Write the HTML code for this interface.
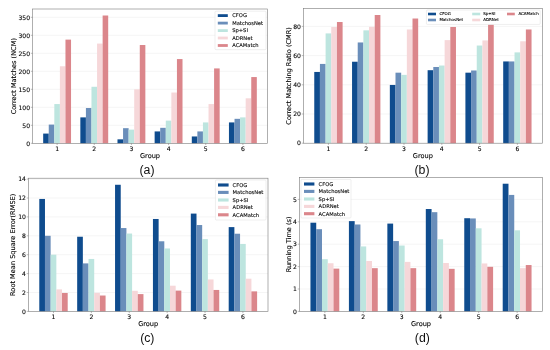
<!DOCTYPE html>
<html><head><meta charset="utf-8"><title>figure</title>
<style>
html,body{margin:0;padding:0;background:#fff;}
svg{display:block}
svg text{font-family:"DejaVu Sans","Liberation Sans",sans-serif;fill:#000;stroke:#000;stroke-width:0.1px;}
svg text.cap{font-family:"Liberation Sans",Arial,sans-serif;fill:#111;stroke:none;}
</style></head><body>
<svg width="550" height="350" viewBox="0 0 550 350">
<rect width="550" height="350" fill="#fff"/>
<g><line x1="32.5" x2="267.5" y1="125.3" y2="125.3" stroke="#ebebeb" stroke-width="0.5"/>
<line x1="32.5" x2="267.5" y1="107.3" y2="107.3" stroke="#ebebeb" stroke-width="0.5"/>
<line x1="32.5" x2="267.5" y1="89.3" y2="89.3" stroke="#ebebeb" stroke-width="0.5"/>
<line x1="32.5" x2="267.5" y1="71.3" y2="71.3" stroke="#ebebeb" stroke-width="0.5"/>
<line x1="32.5" x2="267.5" y1="53.3" y2="53.3" stroke="#ebebeb" stroke-width="0.5"/>
<line x1="32.5" x2="267.5" y1="35.3" y2="35.3" stroke="#ebebeb" stroke-width="0.5"/>
<line x1="32.5" x2="267.5" y1="17.3" y2="17.3" stroke="#ebebeb" stroke-width="0.5"/>
<rect x="43.18" y="133.58" width="5.57" height="9.72" fill="#0f4c8e"/>
<rect x="48.75" y="124.58" width="5.57" height="18.72" fill="#6a8eba"/>
<rect x="54.33" y="104.06" width="5.57" height="39.24" fill="#bde5df"/>
<rect x="59.9" y="66.26" width="5.57" height="77.04" fill="#f6d7d9"/>
<rect x="65.47" y="39.62" width="5.57" height="103.68" fill="#db868b"/>
<rect x="80.34" y="117.38" width="5.57" height="25.92" fill="#0f4c8e"/>
<rect x="85.91" y="108.02" width="5.57" height="35.28" fill="#6a8eba"/>
<rect x="91.48" y="86.78" width="5.57" height="56.52" fill="#bde5df"/>
<rect x="97.06" y="43.58" width="5.57" height="99.72" fill="#f6d7d9"/>
<rect x="102.63" y="15.5" width="5.57" height="127.8" fill="#db868b"/>
<rect x="117.49" y="139.34" width="5.57" height="3.96" fill="#0f4c8e"/>
<rect x="123.06" y="128.18" width="5.57" height="15.12" fill="#6a8eba"/>
<rect x="128.64" y="129.62" width="5.57" height="13.68" fill="#bde5df"/>
<rect x="134.21" y="89.3" width="5.57" height="54" fill="#f6d7d9"/>
<rect x="139.78" y="45.02" width="5.57" height="98.28" fill="#db868b"/>
<rect x="154.64" y="131.42" width="5.57" height="11.88" fill="#0f4c8e"/>
<rect x="160.22" y="127.82" width="5.57" height="15.48" fill="#6a8eba"/>
<rect x="165.79" y="120.62" width="5.57" height="22.68" fill="#bde5df"/>
<rect x="171.36" y="92.54" width="5.57" height="50.76" fill="#f6d7d9"/>
<rect x="176.94" y="59.06" width="5.57" height="84.24" fill="#db868b"/>
<rect x="191.8" y="136.46" width="5.57" height="6.84" fill="#0f4c8e"/>
<rect x="197.37" y="131.42" width="5.57" height="11.88" fill="#6a8eba"/>
<rect x="202.94" y="122.42" width="5.57" height="20.88" fill="#bde5df"/>
<rect x="208.52" y="104.06" width="5.57" height="39.24" fill="#f6d7d9"/>
<rect x="214.09" y="68.42" width="5.57" height="74.88" fill="#db868b"/>
<rect x="228.95" y="122.42" width="5.57" height="20.88" fill="#0f4c8e"/>
<rect x="234.53" y="118.82" width="5.57" height="24.48" fill="#6a8eba"/>
<rect x="240.1" y="117.38" width="5.57" height="25.92" fill="#bde5df"/>
<rect x="245.67" y="98.3" width="5.57" height="45" fill="#f6d7d9"/>
<rect x="251.25" y="77.06" width="5.57" height="66.24" fill="#db868b"/>
<rect x="32.5" y="9" width="235" height="134.3" fill="none" stroke="#7a7a7a" stroke-width="0.6"/>
<line x1="30.8" x2="32.5" y1="143.3" y2="143.3" stroke="#7a7a7a" stroke-width="0.5"/>
<text x="30.1" y="145.5" font-size="6.1" text-anchor="end">0</text>
<line x1="30.8" x2="32.5" y1="125.3" y2="125.3" stroke="#7a7a7a" stroke-width="0.5"/>
<text x="30.1" y="127.5" font-size="6.1" text-anchor="end">50</text>
<line x1="30.8" x2="32.5" y1="107.3" y2="107.3" stroke="#7a7a7a" stroke-width="0.5"/>
<text x="30.1" y="109.5" font-size="6.1" text-anchor="end">100</text>
<line x1="30.8" x2="32.5" y1="89.3" y2="89.3" stroke="#7a7a7a" stroke-width="0.5"/>
<text x="30.1" y="91.5" font-size="6.1" text-anchor="end">150</text>
<line x1="30.8" x2="32.5" y1="71.3" y2="71.3" stroke="#7a7a7a" stroke-width="0.5"/>
<text x="30.1" y="73.5" font-size="6.1" text-anchor="end">200</text>
<line x1="30.8" x2="32.5" y1="53.3" y2="53.3" stroke="#7a7a7a" stroke-width="0.5"/>
<text x="30.1" y="55.5" font-size="6.1" text-anchor="end">250</text>
<line x1="30.8" x2="32.5" y1="35.3" y2="35.3" stroke="#7a7a7a" stroke-width="0.5"/>
<text x="30.1" y="37.5" font-size="6.1" text-anchor="end">300</text>
<line x1="30.8" x2="32.5" y1="17.3" y2="17.3" stroke="#7a7a7a" stroke-width="0.5"/>
<text x="30.1" y="19.5" font-size="6.1" text-anchor="end">350</text>
<line x1="57.11" x2="57.11" y1="143.3" y2="145" stroke="#7a7a7a" stroke-width="0.5"/>
<text x="57.11" y="150.8" font-size="6.1" text-anchor="middle">1</text>
<line x1="94.27" x2="94.27" y1="143.3" y2="145" stroke="#7a7a7a" stroke-width="0.5"/>
<text x="94.27" y="150.8" font-size="6.1" text-anchor="middle">2</text>
<line x1="131.42" x2="131.42" y1="143.3" y2="145" stroke="#7a7a7a" stroke-width="0.5"/>
<text x="131.42" y="150.8" font-size="6.1" text-anchor="middle">3</text>
<line x1="168.58" x2="168.58" y1="143.3" y2="145" stroke="#7a7a7a" stroke-width="0.5"/>
<text x="168.58" y="150.8" font-size="6.1" text-anchor="middle">4</text>
<line x1="205.73" x2="205.73" y1="143.3" y2="145" stroke="#7a7a7a" stroke-width="0.5"/>
<text x="205.73" y="150.8" font-size="6.1" text-anchor="middle">5</text>
<line x1="242.89" x2="242.89" y1="143.3" y2="145" stroke="#7a7a7a" stroke-width="0.5"/>
<text x="242.89" y="150.8" font-size="6.1" text-anchor="middle">6</text>
<text x="150" y="157.78" font-size="6.6" text-anchor="middle">Group</text>
<text transform="translate(16 76.15) rotate(-90)" font-size="6.6" text-anchor="middle">Correct Matches (NCM)</text>
<rect x="215" y="11.2" width="51" height="38.5" rx="1" fill="#fff" fill-opacity="0.8" stroke="#dcdcdc" stroke-width="0.5"/>
<rect x="217.8" y="14.2" width="10" height="2.8" fill="#0f4c8e"/>
<text x="232.2" y="17.47" font-size="5.2">CFOG</text>
<rect x="217.8" y="21.7" width="10" height="2.8" fill="#6a8eba"/>
<text x="232.2" y="24.97" font-size="5.2">MatchosNet</text>
<rect x="217.8" y="29.2" width="10" height="2.8" fill="#bde5df"/>
<text x="232.2" y="32.47" font-size="5.2">Sp+SI</text>
<rect x="217.8" y="36.6" width="10" height="2.8" fill="#f6d7d9"/>
<text x="232.2" y="39.87" font-size="5.2">ADRNet</text>
<rect x="217.8" y="44.1" width="10" height="2.8" fill="#db868b"/>
<text x="232.2" y="47.37" font-size="5.2">ACAMatch</text></g>
<g><line x1="303.4" x2="542.4" y1="114" y2="114" stroke="#ebebeb" stroke-width="0.5"/>
<line x1="303.4" x2="542.4" y1="84.8" y2="84.8" stroke="#ebebeb" stroke-width="0.5"/>
<line x1="303.4" x2="542.4" y1="55.6" y2="55.6" stroke="#ebebeb" stroke-width="0.5"/>
<line x1="303.4" x2="542.4" y1="26.4" y2="26.4" stroke="#ebebeb" stroke-width="0.5"/>
<rect x="314.26" y="71.95" width="5.67" height="71.25" fill="#0f4c8e"/>
<rect x="319.93" y="63.92" width="5.67" height="79.28" fill="#6a8eba"/>
<rect x="325.6" y="33.41" width="5.67" height="109.79" fill="#bde5df"/>
<rect x="331.27" y="26.98" width="5.67" height="116.22" fill="#f6d7d9"/>
<rect x="336.94" y="22.02" width="5.67" height="121.18" fill="#db868b"/>
<rect x="352.05" y="61.73" width="5.67" height="81.47" fill="#0f4c8e"/>
<rect x="357.72" y="42.46" width="5.67" height="100.74" fill="#6a8eba"/>
<rect x="363.39" y="30.34" width="5.67" height="112.86" fill="#bde5df"/>
<rect x="369.05" y="26.84" width="5.67" height="116.36" fill="#f6d7d9"/>
<rect x="374.72" y="15.01" width="5.67" height="128.19" fill="#db868b"/>
<rect x="389.84" y="84.95" width="5.67" height="58.25" fill="#0f4c8e"/>
<rect x="395.5" y="72.68" width="5.67" height="70.52" fill="#6a8eba"/>
<rect x="401.17" y="74.87" width="5.67" height="68.33" fill="#bde5df"/>
<rect x="406.84" y="29.47" width="5.67" height="113.73" fill="#f6d7d9"/>
<rect x="412.51" y="18.52" width="5.67" height="124.68" fill="#db868b"/>
<rect x="427.62" y="70.2" width="5.67" height="73" fill="#0f4c8e"/>
<rect x="433.29" y="66.99" width="5.67" height="76.21" fill="#6a8eba"/>
<rect x="438.96" y="65.53" width="5.67" height="77.67" fill="#bde5df"/>
<rect x="444.63" y="40.12" width="5.67" height="103.08" fill="#f6d7d9"/>
<rect x="450.3" y="26.98" width="5.67" height="116.22" fill="#db868b"/>
<rect x="465.41" y="72.68" width="5.67" height="70.52" fill="#0f4c8e"/>
<rect x="471.08" y="70.49" width="5.67" height="72.71" fill="#6a8eba"/>
<rect x="476.75" y="45.53" width="5.67" height="97.67" fill="#bde5df"/>
<rect x="482.41" y="40.42" width="5.67" height="102.78" fill="#f6d7d9"/>
<rect x="488.08" y="24.65" width="5.67" height="118.55" fill="#db868b"/>
<rect x="503.2" y="61.44" width="5.67" height="81.76" fill="#0f4c8e"/>
<rect x="508.86" y="61.44" width="5.67" height="81.76" fill="#6a8eba"/>
<rect x="514.53" y="52.39" width="5.67" height="90.81" fill="#bde5df"/>
<rect x="520.2" y="41.29" width="5.67" height="101.91" fill="#f6d7d9"/>
<rect x="525.87" y="29.47" width="5.67" height="113.73" fill="#db868b"/>
<rect x="303.4" y="8.6" width="239" height="134.6" fill="none" stroke="#7a7a7a" stroke-width="0.6"/>
<line x1="301.7" x2="303.4" y1="143.2" y2="143.2" stroke="#7a7a7a" stroke-width="0.5"/>
<text x="301" y="145.4" font-size="6.1" text-anchor="end">0</text>
<line x1="301.7" x2="303.4" y1="114" y2="114" stroke="#7a7a7a" stroke-width="0.5"/>
<text x="301" y="116.2" font-size="6.1" text-anchor="end">20</text>
<line x1="301.7" x2="303.4" y1="84.8" y2="84.8" stroke="#7a7a7a" stroke-width="0.5"/>
<text x="301" y="87" font-size="6.1" text-anchor="end">40</text>
<line x1="301.7" x2="303.4" y1="55.6" y2="55.6" stroke="#7a7a7a" stroke-width="0.5"/>
<text x="301" y="57.8" font-size="6.1" text-anchor="end">60</text>
<line x1="301.7" x2="303.4" y1="26.4" y2="26.4" stroke="#7a7a7a" stroke-width="0.5"/>
<text x="301" y="28.6" font-size="6.1" text-anchor="end">80</text>
<line x1="328.43" x2="328.43" y1="143.2" y2="144.9" stroke="#7a7a7a" stroke-width="0.5"/>
<text x="328.43" y="150.8" font-size="6.1" text-anchor="middle">1</text>
<line x1="366.22" x2="366.22" y1="143.2" y2="144.9" stroke="#7a7a7a" stroke-width="0.5"/>
<text x="366.22" y="150.8" font-size="6.1" text-anchor="middle">2</text>
<line x1="404.01" x2="404.01" y1="143.2" y2="144.9" stroke="#7a7a7a" stroke-width="0.5"/>
<text x="404.01" y="150.8" font-size="6.1" text-anchor="middle">3</text>
<line x1="441.79" x2="441.79" y1="143.2" y2="144.9" stroke="#7a7a7a" stroke-width="0.5"/>
<text x="441.79" y="150.8" font-size="6.1" text-anchor="middle">4</text>
<line x1="479.58" x2="479.58" y1="143.2" y2="144.9" stroke="#7a7a7a" stroke-width="0.5"/>
<text x="479.58" y="150.8" font-size="6.1" text-anchor="middle">5</text>
<line x1="517.37" x2="517.37" y1="143.2" y2="144.9" stroke="#7a7a7a" stroke-width="0.5"/>
<text x="517.37" y="150.8" font-size="6.1" text-anchor="middle">6</text>
<text x="422.9" y="157.58" font-size="6.6" text-anchor="middle">Group</text>
<text transform="translate(291 75.9) rotate(-90)" font-size="6.6" text-anchor="middle">Correct Matching Ratio (CMR)</text>
<rect x="426.4" y="10" width="113.8" height="14.4" rx="1" fill="#fff" fill-opacity="0.8" stroke="#dcdcdc" stroke-width="0.5"/>
<rect x="428" y="12.7" width="8" height="2.6" fill="#0f4c8e"/>
<text x="439.4" y="15.44" font-size="4.0">CFOG</text>
<rect x="428" y="18.7" width="8" height="2.6" fill="#6a8eba"/>
<text x="439.4" y="21.44" font-size="4.0">MatchosNet</text>
<rect x="472.2" y="12.7" width="8" height="2.6" fill="#bde5df"/>
<text x="483.2" y="15.44" font-size="4.0">Sp+SI</text>
<rect x="472.2" y="18.7" width="8" height="2.6" fill="#f6d7d9"/>
<text x="483.2" y="21.44" font-size="4.0">ADRNet</text>
<rect x="507" y="12.7" width="7.8" height="2.6" fill="#db868b"/>
<text x="518.4" y="15.44" font-size="4.0">ACAMatch</text></g>
<g><line x1="28.4" x2="268" y1="292.5" y2="292.5" stroke="#ebebeb" stroke-width="0.5"/>
<line x1="28.4" x2="268" y1="273.6" y2="273.6" stroke="#ebebeb" stroke-width="0.5"/>
<line x1="28.4" x2="268" y1="254.7" y2="254.7" stroke="#ebebeb" stroke-width="0.5"/>
<line x1="28.4" x2="268" y1="235.8" y2="235.8" stroke="#ebebeb" stroke-width="0.5"/>
<line x1="28.4" x2="268" y1="216.9" y2="216.9" stroke="#ebebeb" stroke-width="0.5"/>
<line x1="28.4" x2="268" y1="198" y2="198" stroke="#ebebeb" stroke-width="0.5"/>
<line x1="28.4" x2="268" y1="179.1" y2="179.1" stroke="#ebebeb" stroke-width="0.5"/>
<rect x="39.29" y="198.94" width="5.68" height="112.45" fill="#0f4c8e"/>
<rect x="44.97" y="235.8" width="5.68" height="75.6" fill="#6a8eba"/>
<rect x="50.66" y="254.7" width="5.68" height="56.7" fill="#bde5df"/>
<rect x="56.34" y="289.38" width="5.68" height="22.02" fill="#f6d7d9"/>
<rect x="62.02" y="292.97" width="5.68" height="18.43" fill="#db868b"/>
<rect x="77.17" y="236.74" width="5.68" height="74.66" fill="#0f4c8e"/>
<rect x="82.85" y="263.39" width="5.68" height="48.01" fill="#6a8eba"/>
<rect x="88.54" y="258.95" width="5.68" height="52.45" fill="#bde5df"/>
<rect x="94.22" y="292.88" width="5.68" height="18.52" fill="#f6d7d9"/>
<rect x="99.9" y="295.52" width="5.68" height="15.88" fill="#db868b"/>
<rect x="115.05" y="184.77" width="5.68" height="126.63" fill="#0f4c8e"/>
<rect x="120.74" y="228.05" width="5.68" height="83.35" fill="#6a8eba"/>
<rect x="126.42" y="233.53" width="5.68" height="77.87" fill="#bde5df"/>
<rect x="132.1" y="290.8" width="5.68" height="20.6" fill="#f6d7d9"/>
<rect x="137.78" y="294.11" width="5.68" height="17.29" fill="#db868b"/>
<rect x="152.94" y="218.98" width="5.68" height="92.42" fill="#0f4c8e"/>
<rect x="158.62" y="241.28" width="5.68" height="70.12" fill="#6a8eba"/>
<rect x="164.3" y="248.46" width="5.68" height="62.94" fill="#bde5df"/>
<rect x="169.98" y="285.7" width="5.68" height="25.7" fill="#f6d7d9"/>
<rect x="175.66" y="290.61" width="5.68" height="20.79" fill="#db868b"/>
<rect x="190.82" y="213.59" width="5.68" height="97.81" fill="#0f4c8e"/>
<rect x="196.5" y="225.03" width="5.68" height="86.37" fill="#6a8eba"/>
<rect x="202.18" y="239.11" width="5.68" height="72.29" fill="#bde5df"/>
<rect x="207.86" y="279.46" width="5.68" height="31.94" fill="#f6d7d9"/>
<rect x="213.55" y="289.95" width="5.68" height="21.45" fill="#db868b"/>
<rect x="228.7" y="227.11" width="5.68" height="84.29" fill="#0f4c8e"/>
<rect x="234.38" y="233.72" width="5.68" height="77.68" fill="#6a8eba"/>
<rect x="240.06" y="243.93" width="5.68" height="67.47" fill="#bde5df"/>
<rect x="245.74" y="278.7" width="5.68" height="32.7" fill="#f6d7d9"/>
<rect x="251.43" y="291.37" width="5.68" height="20.03" fill="#db868b"/>
<rect x="28.4" y="178.2" width="239.6" height="133.2" fill="none" stroke="#7a7a7a" stroke-width="0.6"/>
<line x1="26.7" x2="28.4" y1="311.4" y2="311.4" stroke="#7a7a7a" stroke-width="0.5"/>
<text x="26" y="313.6" font-size="6.1" text-anchor="end">0</text>
<line x1="26.7" x2="28.4" y1="292.5" y2="292.5" stroke="#7a7a7a" stroke-width="0.5"/>
<text x="26" y="294.7" font-size="6.1" text-anchor="end">2</text>
<line x1="26.7" x2="28.4" y1="273.6" y2="273.6" stroke="#7a7a7a" stroke-width="0.5"/>
<text x="26" y="275.8" font-size="6.1" text-anchor="end">4</text>
<line x1="26.7" x2="28.4" y1="254.7" y2="254.7" stroke="#7a7a7a" stroke-width="0.5"/>
<text x="26" y="256.9" font-size="6.1" text-anchor="end">6</text>
<line x1="26.7" x2="28.4" y1="235.8" y2="235.8" stroke="#7a7a7a" stroke-width="0.5"/>
<text x="26" y="238" font-size="6.1" text-anchor="end">8</text>
<line x1="26.7" x2="28.4" y1="216.9" y2="216.9" stroke="#7a7a7a" stroke-width="0.5"/>
<text x="26" y="219.1" font-size="6.1" text-anchor="end">10</text>
<line x1="26.7" x2="28.4" y1="198" y2="198" stroke="#7a7a7a" stroke-width="0.5"/>
<text x="26" y="200.2" font-size="6.1" text-anchor="end">12</text>
<line x1="26.7" x2="28.4" y1="179.1" y2="179.1" stroke="#7a7a7a" stroke-width="0.5"/>
<text x="26" y="181.3" font-size="6.1" text-anchor="end">14</text>
<line x1="53.5" x2="53.5" y1="311.4" y2="313.1" stroke="#7a7a7a" stroke-width="0.5"/>
<text x="53.5" y="318.8" font-size="6.1" text-anchor="middle">1</text>
<line x1="91.38" x2="91.38" y1="311.4" y2="313.1" stroke="#7a7a7a" stroke-width="0.5"/>
<text x="91.38" y="318.8" font-size="6.1" text-anchor="middle">2</text>
<line x1="129.26" x2="129.26" y1="311.4" y2="313.1" stroke="#7a7a7a" stroke-width="0.5"/>
<text x="129.26" y="318.8" font-size="6.1" text-anchor="middle">3</text>
<line x1="167.14" x2="167.14" y1="311.4" y2="313.1" stroke="#7a7a7a" stroke-width="0.5"/>
<text x="167.14" y="318.8" font-size="6.1" text-anchor="middle">4</text>
<line x1="205.02" x2="205.02" y1="311.4" y2="313.1" stroke="#7a7a7a" stroke-width="0.5"/>
<text x="205.02" y="318.8" font-size="6.1" text-anchor="middle">5</text>
<line x1="242.9" x2="242.9" y1="311.4" y2="313.1" stroke="#7a7a7a" stroke-width="0.5"/>
<text x="242.9" y="318.8" font-size="6.1" text-anchor="middle">6</text>
<text x="148.2" y="325.98" font-size="6.6" text-anchor="middle">Group</text>
<text transform="translate(15.4 244.8) rotate(-90)" font-size="6.6" text-anchor="middle">Root Mean Square Error(RMSE)</text>
<rect x="215.4" y="180" width="50.6" height="40" rx="1" fill="#fff" fill-opacity="0.8" stroke="#dcdcdc" stroke-width="0.5"/>
<rect x="218" y="183.45" width="10.6" height="3.1" fill="#0f4c8e"/>
<text x="232.6" y="186.87" font-size="5.2">CFOG</text>
<rect x="218" y="190.85" width="10.6" height="3.1" fill="#6a8eba"/>
<text x="232.6" y="194.27" font-size="5.2">MatchosNet</text>
<rect x="218" y="198.45" width="10.6" height="3.1" fill="#bde5df"/>
<text x="232.6" y="201.87" font-size="5.2">Sp+SI</text>
<rect x="218" y="205.85" width="10.6" height="3.1" fill="#f6d7d9"/>
<text x="232.6" y="209.27" font-size="5.2">ADRNet</text>
<rect x="218" y="213.25" width="10.6" height="3.1" fill="#db868b"/>
<text x="232.6" y="216.67" font-size="5.2">ACAMatch</text></g>
<g><line x1="299.4" x2="542.6" y1="289" y2="289" stroke="#ebebeb" stroke-width="0.5"/>
<line x1="299.4" x2="542.6" y1="266.6" y2="266.6" stroke="#ebebeb" stroke-width="0.5"/>
<line x1="299.4" x2="542.6" y1="244.2" y2="244.2" stroke="#ebebeb" stroke-width="0.5"/>
<line x1="299.4" x2="542.6" y1="221.8" y2="221.8" stroke="#ebebeb" stroke-width="0.5"/>
<line x1="299.4" x2="542.6" y1="199.4" y2="199.4" stroke="#ebebeb" stroke-width="0.5"/>
<rect x="310.45" y="222.7" width="5.77" height="88.7" fill="#0f4c8e"/>
<rect x="316.22" y="229.19" width="5.77" height="82.21" fill="#6a8eba"/>
<rect x="321.99" y="259.21" width="5.77" height="52.19" fill="#bde5df"/>
<rect x="327.76" y="263.24" width="5.77" height="48.16" fill="#f6d7d9"/>
<rect x="333.52" y="268.62" width="5.77" height="42.78" fill="#db868b"/>
<rect x="348.91" y="221.13" width="5.77" height="90.27" fill="#0f4c8e"/>
<rect x="354.67" y="224.49" width="5.77" height="86.91" fill="#6a8eba"/>
<rect x="360.44" y="246.44" width="5.77" height="64.96" fill="#bde5df"/>
<rect x="366.21" y="261" width="5.77" height="50.4" fill="#f6d7d9"/>
<rect x="371.98" y="268.17" width="5.77" height="43.23" fill="#db868b"/>
<rect x="387.36" y="223.59" width="5.77" height="87.81" fill="#0f4c8e"/>
<rect x="393.12" y="241.06" width="5.77" height="70.34" fill="#6a8eba"/>
<rect x="398.89" y="245.54" width="5.77" height="65.86" fill="#bde5df"/>
<rect x="404.66" y="261.9" width="5.77" height="49.5" fill="#f6d7d9"/>
<rect x="410.43" y="268.17" width="5.77" height="43.23" fill="#db868b"/>
<rect x="425.81" y="209.03" width="5.77" height="102.37" fill="#0f4c8e"/>
<rect x="431.57" y="212.17" width="5.77" height="99.23" fill="#6a8eba"/>
<rect x="437.34" y="239.27" width="5.77" height="72.13" fill="#bde5df"/>
<rect x="443.11" y="263.02" width="5.77" height="48.38" fill="#f6d7d9"/>
<rect x="448.88" y="268.84" width="5.77" height="42.56" fill="#db868b"/>
<rect x="464.26" y="218.22" width="5.77" height="93.18" fill="#0f4c8e"/>
<rect x="470.02" y="218.44" width="5.77" height="92.96" fill="#6a8eba"/>
<rect x="475.79" y="228.3" width="5.77" height="83.1" fill="#bde5df"/>
<rect x="481.56" y="263.46" width="5.77" height="47.94" fill="#f6d7d9"/>
<rect x="487.33" y="266.82" width="5.77" height="44.58" fill="#db868b"/>
<rect x="502.71" y="183.72" width="5.77" height="127.68" fill="#0f4c8e"/>
<rect x="508.48" y="194.92" width="5.77" height="116.48" fill="#6a8eba"/>
<rect x="514.24" y="230.31" width="5.77" height="81.09" fill="#bde5df"/>
<rect x="520.01" y="268.17" width="5.77" height="43.23" fill="#f6d7d9"/>
<rect x="525.78" y="265.03" width="5.77" height="46.37" fill="#db868b"/>
<rect x="299.4" y="177.4" width="243.2" height="134" fill="none" stroke="#7a7a7a" stroke-width="0.6"/>
<line x1="297.7" x2="299.4" y1="311.4" y2="311.4" stroke="#7a7a7a" stroke-width="0.5"/>
<text x="297" y="313.6" font-size="6.1" text-anchor="end">0</text>
<line x1="297.7" x2="299.4" y1="289" y2="289" stroke="#7a7a7a" stroke-width="0.5"/>
<text x="297" y="291.2" font-size="6.1" text-anchor="end">1</text>
<line x1="297.7" x2="299.4" y1="266.6" y2="266.6" stroke="#7a7a7a" stroke-width="0.5"/>
<text x="297" y="268.8" font-size="6.1" text-anchor="end">2</text>
<line x1="297.7" x2="299.4" y1="244.2" y2="244.2" stroke="#7a7a7a" stroke-width="0.5"/>
<text x="297" y="246.4" font-size="6.1" text-anchor="end">3</text>
<line x1="297.7" x2="299.4" y1="221.8" y2="221.8" stroke="#7a7a7a" stroke-width="0.5"/>
<text x="297" y="224" font-size="6.1" text-anchor="end">4</text>
<line x1="297.7" x2="299.4" y1="199.4" y2="199.4" stroke="#7a7a7a" stroke-width="0.5"/>
<text x="297" y="201.6" font-size="6.1" text-anchor="end">5</text>
<line x1="324.87" x2="324.87" y1="311.4" y2="313.1" stroke="#7a7a7a" stroke-width="0.5"/>
<text x="324.87" y="318.8" font-size="6.1" text-anchor="middle">1</text>
<line x1="363.32" x2="363.32" y1="311.4" y2="313.1" stroke="#7a7a7a" stroke-width="0.5"/>
<text x="363.32" y="318.8" font-size="6.1" text-anchor="middle">2</text>
<line x1="401.77" x2="401.77" y1="311.4" y2="313.1" stroke="#7a7a7a" stroke-width="0.5"/>
<text x="401.77" y="318.8" font-size="6.1" text-anchor="middle">3</text>
<line x1="440.23" x2="440.23" y1="311.4" y2="313.1" stroke="#7a7a7a" stroke-width="0.5"/>
<text x="440.23" y="318.8" font-size="6.1" text-anchor="middle">4</text>
<line x1="478.68" x2="478.68" y1="311.4" y2="313.1" stroke="#7a7a7a" stroke-width="0.5"/>
<text x="478.68" y="318.8" font-size="6.1" text-anchor="middle">5</text>
<line x1="517.13" x2="517.13" y1="311.4" y2="313.1" stroke="#7a7a7a" stroke-width="0.5"/>
<text x="517.13" y="318.8" font-size="6.1" text-anchor="middle">6</text>
<text x="421" y="325.98" font-size="6.6" text-anchor="middle">Group</text>
<text transform="translate(290.6 244.4) rotate(-90)" font-size="6.6" text-anchor="middle">Running Time (s)</text>
<rect x="301" y="179.4" width="50" height="38.6" rx="1" fill="#fff" fill-opacity="0.8" stroke="#dcdcdc" stroke-width="0.5"/>
<rect x="304" y="182.45" width="10.4" height="3.1" fill="#0f4c8e"/>
<text x="318.6" y="185.87" font-size="5.2">CFOG</text>
<rect x="304" y="189.85" width="10.4" height="3.1" fill="#6a8eba"/>
<text x="318.6" y="193.27" font-size="5.2">MatchosNet</text>
<rect x="304" y="197.45" width="10.4" height="3.1" fill="#bde5df"/>
<text x="318.6" y="200.87" font-size="5.2">Sp+SI</text>
<rect x="304" y="204.85" width="10.4" height="3.1" fill="#f6d7d9"/>
<text x="318.6" y="208.27" font-size="5.2">ADRNet</text>
<rect x="304" y="212.15" width="10.4" height="3.1" fill="#db868b"/>
<text x="318.6" y="215.57" font-size="5.2">ACAMatch</text></g>
<text x="147" y="174.2" font-size="12.3" text-anchor="middle" class="cap">(a)</text>
<text x="422" y="174.1" font-size="12.3" text-anchor="middle" class="cap">(b)</text>
<text x="147.3" y="342" font-size="12.3" text-anchor="middle" class="cap">(c)</text>
<text x="422.3" y="342" font-size="12.3" text-anchor="middle" class="cap">(d)</text>

</svg>
</body></html>
